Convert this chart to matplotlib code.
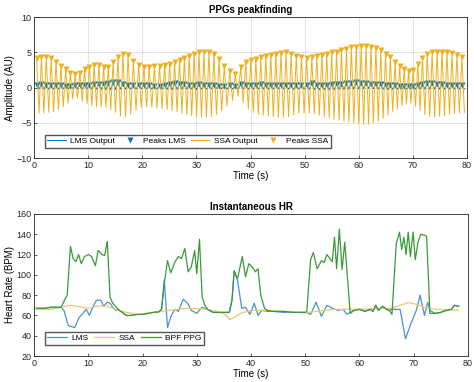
import numpy as np
import matplotlib
matplotlib.use('Agg')
import matplotlib.pyplot as plt

plt.rcParams['font.family'] = ['Liberation Sans', 'DejaVu Sans']

# --- top panel: beat-by-beat peaks of the two PPG outputs ---
beat_t = [0.45, 1.35, 2.25, 3.15, 4.05, 4.95, 5.83, 6.7, 7.57, 8.45,
          9.33, 10.22, 11.1, 11.97, 12.84, 13.71, 14.6, 15.5, 16.42, 17.37,
          18.34, 19.32, 20.3, 21.27, 22.23, 23.18, 24.12, 25.05, 25.97, 26.88,
          27.78, 28.68, 29.58, 30.48, 31.39, 32.31, 33.24, 34.18, 35.15, 36.17,
          37.2, 38.18, 39.13, 40.06, 40.98, 41.9, 42.82, 43.75, 44.68, 45.62,
          46.56, 47.51, 48.46, 49.42, 50.38, 51.33, 52.26, 53.18, 54.09, 55.0,
          55.91, 56.82, 57.73, 58.64, 59.55, 60.46, 61.37, 62.27, 63.17, 64.07,
          64.96, 65.85, 66.72, 67.57, 68.4, 69.23, 70.07, 70.92, 71.79, 72.68,
          73.58, 74.49, 75.4, 76.32, 77.24, 78.16, 79.08]
ssa_peaks = [4.2, 4.3, 4.4, 4.2, 3.7, 3.1, 2.6, 2.1, 1.9, 2.1,
             2.7, 3.0, 3.2, 3.2, 2.9, 3.0, 3.6, 4.4, 4.8, 4.6,
             3.8, 3.2, 3.0, 3.0, 3.1, 3.1, 3.2, 3.4, 3.6, 3.9,
             4.2, 4.5, 4.8, 5.0, 5.1, 5.0, 4.8, 4.1, 3.1, 2.4,
             1.9, 2.9, 3.6, 3.9, 4.1, 4.3, 4.5, 4.6, 4.8, 4.9,
             5.0, 4.8, 4.5, 4.3, 4.2, 4.3, 4.5, 4.6, 4.8, 5.0,
             5.1, 5.3, 5.5, 5.7, 5.8, 5.9, 5.9, 5.8, 5.6, 5.3,
             4.8, 4.3, 3.7, 3.1, 2.7, 2.4, 2.5, 3.3, 4.2, 4.8,
             5.0, 5.1, 5.1, 5.0, 4.9, 4.7, 4.4]
ssa_troughs = [-3.6, -3.6, -3.5, -3.4, -3.1, -2.7, -2.2, -1.6, -1.5, -1.9,
               -2.3, -2.6, -2.7, -2.7, -2.8, -3.1, -3.5, -4.0, -4.1, -3.8,
               -3.2, -2.8, -2.7, -2.8, -2.9, -3.0, -3.1, -3.2, -3.4, -3.6,
               -3.8, -4.0, -4.1, -4.2, -4.2, -4.1, -3.8, -3.3, -2.6, -1.8,
               -1.2, -2.1, -3.0, -3.5, -3.8, -3.9, -4.0, -4.1, -4.2, -4.2,
               -4.1, -3.9, -3.7, -3.6, -3.6, -3.7, -3.9, -4.1, -4.3, -4.5,
               -4.6, -4.8, -4.9, -5.0, -5.1, -5.2, -5.2, -5.0, -4.8, -4.4,
               -3.9, -3.4, -3.0, -2.6, -2.3, -2.2, -2.6, -3.2, -3.8, -4.1,
               -4.2, -4.1, -4.0, -3.8, -3.7, -3.6, -3.5]
lms_peaks = [0.4, 0.45, 0.4, 0.4, 0.35, 0.35, 0.3, 0.2, 0.35, 0.35,
             0.4, 0.4, 0.45, 0.5, 0.5, 0.6, 0.8, 0.75, 0.55, 0.4,
             0.35, 0.35, 0.35, 0.35, 0.3, 0.3, 0.4, 0.45, 0.6, 0.55,
             0.45, 0.4, 0.4, 0.45, 0.4, 0.35, 0.35, 0.3, 0.3, 0.35,
             0.2, 0.45, 0.4, 0.4, 0.4, 0.45, 0.4, 0.4, 0.4, 0.4,
             0.4, 0.4, 0.35, 0.35, 0.35, 0.6, 0.4, 0.4, 0.4, 0.45,
             0.5, 0.55, 0.6, 0.7, 0.75, 0.7, 0.65, 0.55, 0.5, 0.45,
             0.4, 0.4, 0.35, 0.3, 0.3, 0.2, 0.3, 0.35, 0.45, 0.6,
             0.7, 0.55, 0.45, 0.4, 0.4, 0.4, 0.4]
lms_troughs = [-0.2, -0.2, -0.25, -0.2, -0.2, -0.15, -0.15, -0.1, -0.15, -0.2,
               -0.2, -0.2, -0.2, -0.25, -0.3, -0.3, -0.25, -0.2, -0.2, -0.2,
               -0.2, -0.15, -0.15, -0.2, -0.2, -0.2, -0.25, -0.3, -0.25, -0.2,
               -0.2, -0.2, -0.25, -0.2, -0.2, -0.15, -0.1, -0.15, -0.2, -0.2,
               -0.2, -0.2, -0.25, -0.2, -0.2, -0.2, -0.2, -0.2, -0.15, -0.15,
               -0.2, -0.25, -0.2, -0.2, -0.25, -0.3, -0.3, -0.3, -0.3, -0.3,
               -0.25, -0.25, -0.2, -0.2, -0.2, -0.15, -0.1, -0.15, -0.2, -0.25,
               -0.3, -0.25, -0.2, -0.2, -0.2, -0.2, -0.2, -0.2, -0.2, -0.2,
               -0.2, -0.2, -0.2, -0.2, -0.2, -0.2, -0.2]

# --- bottom panel: instantaneous heart rate ---
lms_t = [0.4, 1, 2, 3, 4, 5, 5.5, 6.3, 7.5, 8.3,
         9, 9.6, 10.2, 10.8, 11.5, 12.3, 12.8, 13.5, 14, 14.5,
         15, 15.5, 17, 18, 19, 20, 21, 22, 23, 23.5,
         24, 24.6, 25.3, 26, 26.6, 27.5, 28.3, 29, 30, 30.6,
         31, 32, 33, 34, 35, 36, 36.5, 36.9, 37.5, 38.3,
         39, 39.8, 40.6, 41.3, 42, 43, 44, 46, 48, 50,
         50.3, 51, 52, 53, 54, 55, 56, 57, 57.7, 58.3,
         59, 60, 61, 62, 62.5, 63, 63.5, 64.3, 65, 65.5,
         66, 66.5, 67.5, 68.5, 69.5, 70.5, 71.2, 72, 72.6, 73,
         74, 75, 76, 77, 77.5, 78.3]
lms_hr = [67, 67, 67, 68, 68, 68, 65, 50, 48, 58,
          62, 66, 60, 68, 75, 75, 69, 73, 72, 68,
          65, 66, 60, 60, 61, 61, 62, 63, 63.5, 66,
          95, 48, 60, 66, 64, 76, 72, 65, 62, 66,
          68, 66, 63, 63, 63, 63, 75, 104, 95, 67,
          68, 61, 72, 60, 65, 64, 64, 63, 63, 63,
          63, 61, 73, 59, 70, 67, 65, 66, 61, 63,
          65, 66, 64, 66, 64, 70, 65, 69, 66, 65,
          66, 66, 66, 37, 52, 65, 80, 60, 73, 65,
          62, 63, 65, 66, 70, 69]
ssa_t = [0.4, 3, 5, 6.5, 8, 10, 12, 13.5, 15, 17,
         19, 22, 25, 28, 31, 34, 35.5, 36, 37, 38,
         40, 43, 46, 49, 50, 52, 55, 60, 64, 66,
         67.5, 69, 70.5, 72, 74, 78.3]
ssa_hr = [66, 66, 68, 70, 69, 67, 69.5, 69, 66, 63,
          61, 63, 65, 67, 66.5, 64, 60, 56, 58, 62,
          65, 65, 64, 63, 62.5, 64, 66, 66, 67, 67,
          70, 72.5, 71, 68, 66, 65]
bpf_t = [0.4, 1, 2, 3, 4, 5, 5.6, 6.1, 6.7, 7.2,
         7.7, 8.2, 8.7, 9.3, 10, 10.6, 11.3, 11.8, 12.5, 13,
         13.5, 14, 14.5, 15.5, 17, 18, 19, 20, 21, 22,
         23, 23.5, 24.1, 24.6, 25.2, 26, 26.6, 27.2, 27.8, 28.4,
         29, 29.6, 30, 30.5, 31, 31.5, 32, 33, 34, 35,
         36, 36.5, 36.9, 37.5, 38.4, 39, 39.6, 40.2, 40.8, 41.3,
         41.8, 42.5, 43, 44, 46, 48, 50, 50.3, 51, 51.5,
         52.2, 53, 53.5, 54, 54.7, 55, 55.4, 55.8, 56.3, 56.8,
         57.3, 58.3, 59, 60, 61, 62, 62.5, 63, 63.5, 64.3,
         65, 65.5, 66, 66.8, 67.4, 67.8, 68.2, 68.6, 69, 69.4,
         69.9, 70.3, 70.8, 71.3, 72, 72.4, 73, 74, 75, 76,
         77, 77.5, 78.3]
bpf_hr = [67, 67, 67, 68, 68, 68, 75, 80, 128, 116,
          113, 120, 111, 118, 120, 118, 109, 124, 120, 119,
          133, 78, 72, 66, 60, 60, 61, 61, 62, 63,
          63.5, 66, 95, 114, 102, 113, 118, 116, 126, 103,
          108, 124, 101, 135, 78, 70, 66, 63, 63, 63,
          63, 75, 104, 96, 118, 98, 111, 108, 103, 106,
          80, 67, 65, 64, 64, 63, 63, 64, 115, 122,
          106, 114, 112, 120, 115, 113, 137, 106, 145, 105,
          132, 62, 65, 66, 64, 66, 64, 70, 65, 69,
          66, 65, 61, 131, 142, 125, 137, 120, 142, 118,
          142, 115, 132, 140, 139, 138, 62, 62, 63, 65,
          66, 70, 69]

c_blue = '#0072BD'
c_yel = '#EDB120'

# waveform: peak, then trough halfway to the next beat
bt = np.array(beat_t)
half = np.append(np.diff(bt), 0.92) / 2
wave_t = np.column_stack([bt, bt + half]).ravel()
ssa_wave = np.column_stack([ssa_peaks, ssa_troughs]).ravel()
lms_wave = np.column_stack([lms_peaks, lms_troughs]).ravel()

fig = plt.figure(figsize=(4.74, 3.82), dpi=100)
ax1 = fig.add_axes([0.072, 0.586, 0.913, 0.369])
ax2 = fig.add_axes([0.072, 0.068, 0.915, 0.372])

ax1.plot(wave_t, lms_wave, color=c_blue, lw=0.7, label='LMS Output')
ax1.plot(beat_t, lms_peaks, 'v', color=c_blue, ms=3.8, mec='none', label='Peaks LMS')
ax1.plot(wave_t, ssa_wave, color=c_yel, lw=0.7, label='SSA Output')
ax1.plot(beat_t, ssa_peaks, 'v', color=c_yel, ms=3.8, mec='none', label='Peaks SSA')
ax1.set_xlim(0, 80)
ax1.set_ylim(-10, 10)
ax1.set_xticks(range(0, 81, 10))
ax1.set_yticks([-10, -5, 0, 5, 10])
ax1.grid(True, color='#dedede', lw=0.6)
ax1.set_axisbelow(True)
ax1.set_xlabel('Time (s)', fontsize=7, labelpad=1)
ax1.set_ylabel('Amplitude (AU)', fontsize=7, labelpad=1)
ax1.set_title('PPGs peakfinding', fontsize=7, fontweight='bold', pad=3)
ax1.legend(loc='lower left', ncol=4, fontsize=6, frameon=True, fancybox=False,
           edgecolor='#555555', framealpha=1, handlelength=2.2, columnspacing=0.7,
           borderpad=0.3, handletextpad=0.5, bbox_to_anchor=(0.015, 0.045))

ax2.plot(lms_t, lms_hr, color='#4a92d4', lw=0.9, label='LMS')
ax2.plot(ssa_t, ssa_hr, color='#f3c46e', lw=0.9, label='SSA')
ax2.plot(bpf_t, bpf_hr, color='#3a9a3a', lw=0.9, label='BPF PPG')
ax2.set_xlim(0, 80)
ax2.set_ylim(20, 160)
ax2.set_xticks(range(0, 81, 10))
ax2.set_yticks(range(20, 161, 20))
ax2.set_xlabel('Time (s)', fontsize=7, labelpad=1)
ax2.set_ylabel('Heart Rate (BPM)', fontsize=7, labelpad=1)
ax2.set_title('Instantaneous HR', fontsize=7, fontweight='bold', pad=3)
ax2.legend(loc='lower left', ncol=3, fontsize=6, frameon=True, fancybox=False,
           edgecolor='#555555', framealpha=1, handlelength=2.4, columnspacing=0.7,
           borderpad=0.3, handletextpad=0.5, bbox_to_anchor=(0.015, 0.05))

for ax in (ax1, ax2):
    ax.tick_params(direction='in', length=2.5, width=0.5, labelsize=6.5,
                   colors='#262626', pad=2)
    for s in ax.spines.values():
        s.set_linewidth(0.6)
        s.set_color('#262626')

fig.savefig('out.png', dpi=100)
